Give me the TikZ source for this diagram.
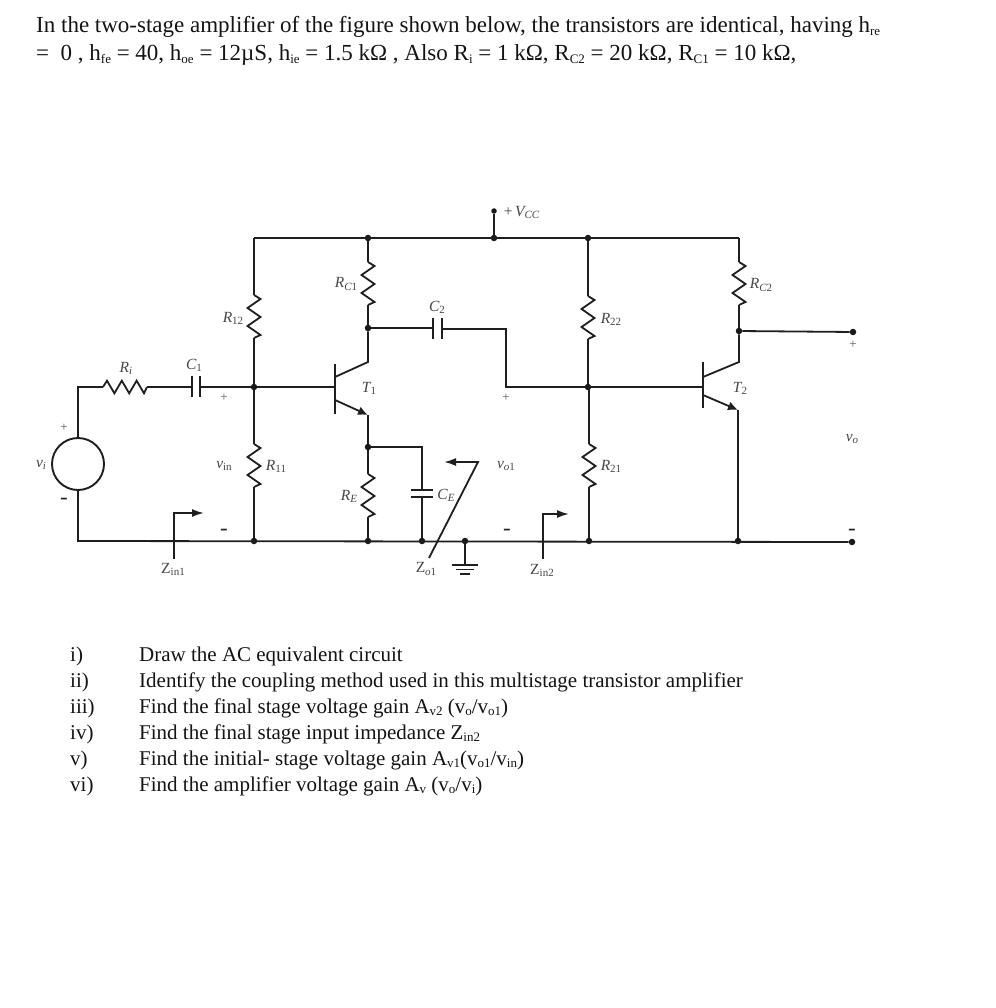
\documentclass[tikz,border=0pt]{standalone}
\usepackage{fontspec}
\setmainfont{Liberation Serif}
\usetikzlibrary{arrows.meta}
\newcommand{\lsub}[1]{\raisebox{-0.22ex}{\fontsize{13}{13}\selectfont #1}}
\newcommand{\csub}[1]{\raisebox{-0.3ex}{\fontsize{11}{11}\selectfont #1}}
\newcommand{\vresistor}[2]{\draw[wire] (#1) -- ++(6.5,4) -- ++(-13,9) -- ++(13,9) -- ++(-13,9) -- ++(13,9) -- (#2);}
\newcommand{\hresistor}[2]{\draw[wire] (#1) -- ++(4,-6.3) -- ++(7.4,12.6) -- ++(7.4,-12.6) -- ++(7.4,12.6) -- ++(7.4,-12.6) -- ++(7.4,12.6) -- (#2);}
\begin{document}
\begin{tikzpicture}[x=1pt,y=-1pt,
  wire/.style={line width=1.8pt,draw=black!88,line join=miter},
  plate/.style={line width=1.9pt,draw=black!88},
  arr/.style={wire,-{Latex[length=12pt,width=8pt]}},
  earr/.style={wire,-{Latex[length=10pt,width=9pt]}},
  dotn/.style={circle,fill=black!90,inner sep=0pt,minimum size=6.5pt},
  txt/.style={anchor=base west,inner sep=0pt,font=\fontsize{21}{24}\selectfont,text=black!92},
  head/.style={txt,font=\fontsize{23}{24}\selectfont},
  lbl/.style={inner sep=0pt,font=\fontsize{15.5}{16}\selectfont\itshape,text=black!72},
  sgn/.style={inner sep=0pt,font=\fontsize{13}{14}\selectfont,text=black!65},
  neg/.style={inner sep=0pt,font=\fontsize{23}{23}\selectfont,text=black!85}]
\useasboundingbox (0,0) rectangle (995,1008);
\fill[white] (0,0) rectangle (995,1008);

% ---- text
\node[head] (l1) at (36,33) {In the two-stage amplifier of the figure shown below, the transistors are identical, having h\lsub{re}};
\node[head] (l2) at (36,61) {=\ \ 0 , h\lsub{fe} = 40, h\lsub{oe} = 12µS, h\lsub{ie} = 1.5 kΩ , Also R\lsub{i} = 1 kΩ, R\lsub{C2} = 20 kΩ, R\lsub{C1} = 10 kΩ,};
\foreach \n/\y/\a in {a/661/i),b/687/ii),c/713/iii),d/739/iv),e/765/v),f/791/vi)}
  \node[txt] (n\n) at (70,\y) {\a};
\node[txt] (q1) at (139,661) {Draw the AC equivalent circuit};
\node[txt] (q2) at (139,687) {Identify the coupling method used in this multistage transistor amplifier};
\node[txt] (q3) at (139,713) {Find the final stage voltage gain A\lsub{v2} (v\lsub{o}/v\lsub{o1})};
\node[txt] (q4) at (139,739) {Find the final stage input impedance Z\lsub{in2}};
\node[txt] (q5) at (139,765) {Find the initial- stage voltage gain A\lsub{v1}(v\lsub{o1}/v\lsub{in})};
\node[txt] (q6) at (139,791) {Find the amplifier voltage gain A\lsub{v} (v\lsub{o}/v\lsub{i})};

% ---- junctions and terminals
\node[dotn] (jtop1) at (368,238) {};
\node[dotn] (jvcc) at (494,238) {};
\node[dotn] (jtop2) at (588,238) {};
\node[dotn,minimum size=5.5pt] (tvcc) at (494,211) {};
\node[dotn] (jc1) at (368,328) {};
\node[dotn] (jb1) at (254,387) {};
\node[dotn] (jb2) at (588,387) {};
\node[dotn] (je1) at (368,447) {};
\node[dotn] (jc2) at (739,331) {};
\node[dotn] (to1) at (853,332) {};
\node[dotn] (to2) at (852,542) {};
\node[dotn] (g1) at (254,541) {};
\node[dotn] (g2) at (368,541) {};
\node[dotn] (g3) at (422,541) {};
\node[dotn] (g4) at (465,541) {};
\node[dotn] (g5) at (589,541) {};
\node[dotn] (g6) at (738,541) {};
\coordinate (gl) at (77,541);
\coordinate (tl) at (254,238);
\coordinate (tr) at (739,238);
\coordinate (sl) at (77,387);

% ---- supply rail and output rails
\draw[wire] (tl) -- (tr);
\draw[wire] (tvcc) -- (jvcc);
\draw[wire] (gl) -- (to2);
\draw[wire] (jc2) -- (to1);

% ---- source
\node[circle,draw=black!88,line width=1.9pt,minimum size=52pt,inner sep=0pt] (src) at (78,464) {};
\draw[wire] (src.north) -- (sl -| src.north) -- (sl);
\draw[wire] (src.south) -- (gl -| src.south);

% ---- resistors
\coordinate (ri1) at (103,387); \coordinate (ri2) at (147,387);
\hresistor{ri1}{ri2}
\coordinate (r12a) at (254,295); \coordinate (r12b) at (254,338);
\vresistor{r12a}{r12b}
\coordinate (r11a) at (254,444); \coordinate (r11b) at (254,487);
\vresistor{r11a}{r11b}
\coordinate (rc1a) at (368,262); \coordinate (rc1b) at (368,305);
\vresistor{rc1a}{rc1b}
\coordinate (rea) at (368,474); \coordinate (reb) at (368,517);
\vresistor{rea}{reb}
\coordinate (r22a) at (588,296); \coordinate (r22b) at (588,339);
\vresistor{r22a}{r22b}
\coordinate (r21a) at (589,444); \coordinate (r21b) at (589,487);
\vresistor{r21a}{r21b}
\coordinate (rc2a) at (739,262); \coordinate (rc2b) at (739,305);
\vresistor{rc2a}{rc2b}

\draw[wire] (sl) -- (ri1);
\draw[wire] (tl) -- (r12a) (r12b) -- (jb1) -- (jb1 |- r11a) -- (r11a) (r11b) -- (g1);
\draw[wire] (jtop1) -- (rc1a) (rc1b) -- (jc1);
\draw[wire] (je1) -- (rea) (reb) -- (g2);
\draw[wire] (jtop2) -- (r22a) (r22b) -- (jb2) -- (jb2 -| r21a) -- (r21a) (r21b) -- (g5);
\draw[wire] (tr) -- (rc2a) (rc2b) -- (jc2);

% ---- C1
\coordinate (c1a) at (192,387); \coordinate (c1b) at (200,387);
\draw[plate] (192,376) -- (192,397) (200,376) -- (200,397);
\draw[wire] (ri2) -- (c1a) (c1b) -- (jb1);
% ---- C2
\coordinate (c2a) at (433,328); \coordinate (c2b) at (442,329);
\coordinate (c2m) at (506,329); \coordinate (c2n) at (506,387);
\draw[plate] (433,318) -- (433,339) (442,318) -- (442,339);
\draw[wire] (jc1) -- (c2a) (c2b) -- (c2m) -- (c2n) -- (jb2);
% ---- CE
\coordinate (cea) at (422,447); \coordinate (cep) at (422,490); \coordinate (ceq) at (422,497);
\draw[plate] (411,490) -- (433,490) (411,497) -- (433,497);
\draw[wire] (je1) -- (cea) -- (cep) (ceq) -- (g3);

% ---- T1
\coordinate (t1b) at (335,387); \coordinate (t1ct) at (335,377); \coordinate (t1et) at (335,400);
\coordinate (t1c) at (368,362); \coordinate (t1e) at (368,415);
\draw[plate] (335,364) -- (335,414);
\draw[wire] (jb1) -- (t1b);
\draw[wire] (t1ct) -- (t1c) -- (jc1);
\draw[earr] (t1et) -- (t1e);
\draw[wire] (t1e) -- (je1);
% ---- T2
\coordinate (t2b) at (703,387); \coordinate (t2ct) at (703,377); \coordinate (t2et) at (703,395);
\coordinate (t2c) at (739,362); \coordinate (t2e) at (738,410);
\draw[plate] (703,362) -- (703,408);
\draw[wire] (jb2) -- (t2b);
\draw[wire] (t2ct) -- (t2c) -- (jc2);
\draw[earr] (t2et) -- (t2e);
\draw[wire] (t2e) -- (g6);

% ---- ground
\coordinate (gnd) at (465,565);
\draw[wire] (g4) -- (gnd);
\draw[plate] (452,565) -- (478,565) (456,569.5) -- (474,569.5) (460,574) -- (470,574);

% ---- impedance arrows
\coordinate (zi1a) at (174,559); \coordinate (zi1b) at (174,513); \coordinate (zi1c) at (204,513);
\draw[arr] (zi1a) -- (zi1b) -- (zi1c);
\coordinate (zi2a) at (543,559); \coordinate (zi2b) at (543,514); \coordinate (zi2c) at (569,514);
\draw[arr] (zi2a) -- (zi2b) -- (zi2c);
\coordinate (zoa) at (429,558); \coordinate (zob) at (478,462); \coordinate (zoc) at (444,462);
\draw[arr] (zoa) -- (zob) -- (zoc);

% ---- labels
\node[lbl] (lvcc) at (521.5,212.5) {\upshape +\,\itshape V\csub{CC}};
\node[lbl] (lri) at (126,368) {R\csub{i}};
\node[lbl] (lc1) at (194,365) {C\csub{\upshape 1}};
\node[lbl] (lr12) at (233,318) {R\csub{\upshape 12}};
\node[lbl] (lrc1) at (346,284) {R\csub{C\upshape 1}};
\node[lbl] (lc2) at (437,307) {C\csub{\upshape 2}};
\node[lbl] (lt1) at (369,388) {T\csub{\upshape 1}};
\node[lbl] (lvi) at (41,465) {v\csub{i}};
\node[lbl] (lvin) at (224,466) {v\csub{\upshape in}};
\node[lbl] (lr11) at (276,466) {R\csub{\upshape 11}};
\node[lbl] (lre) at (349,496) {R\csub{E}};
\node[lbl] (lce) at (446,495) {C\csub{E}};
\node[lbl] (lvo1) at (506,466) {v\csub{o\upshape 1}};
\node[lbl] (lr22) at (611,319) {R\csub{\upshape 22}};
\node[lbl] (lr21) at (611,466) {R\csub{\upshape 21}};
\node[lbl] (lrc2) at (761,285) {R\csub{C\upshape 2}};
\node[lbl] (lt2) at (740,388) {T\csub{\upshape 2}};
\node[lbl] (lvo) at (852,439) {v\csub{o}};
\node[lbl] (lzi1) at (173,569) {\upshape Z\csub{in1}};
\node[lbl] (lzo1) at (426,569) {\upshape Z\csub{\itshape o\upshape 1}};
\node[lbl] (lzi2) at (542,570) {\upshape Z\csub{in2}};
\node[sgn] (p1) at (64,428) {+};
\node[neg] (m1) at (64,501) {-};
\node[sgn] (p2) at (224,398) {+};
\node[neg] (m2) at (224,532) {-};
\node[sgn] (p3) at (506,398) {+};
\node[neg] (m3) at (507,532) {-};
\node[sgn] (p4) at (853,345) {+};
\node[neg] (m4) at (852,532) {-};
\end{tikzpicture}
\end{document}
